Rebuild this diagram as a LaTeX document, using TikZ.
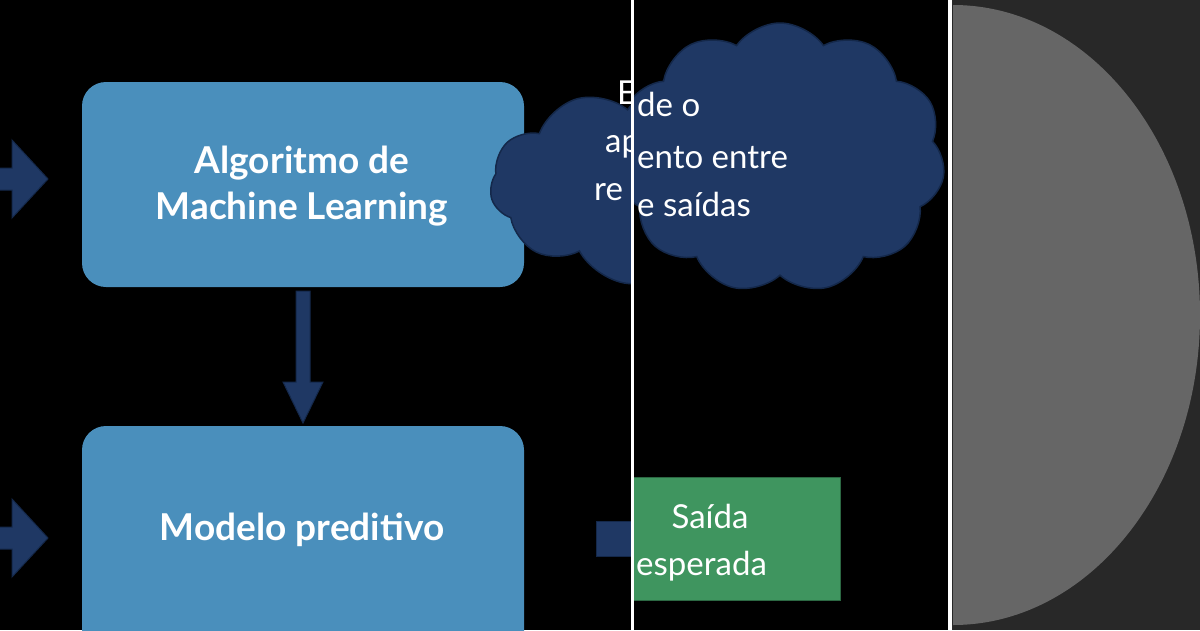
\documentclass[tikz,border=0pt]{standalone}
\usepackage{fontspec}
\setmainfont{Lato}
\usetikzlibrary{shapes.symbols}
\definecolor{navy}{HTML}{1F3864}
\definecolor{navyd}{HTML}{14284A}
\definecolor{boxblue}{HTML}{4A8FBC}
\definecolor{grn}{HTML}{3F955F}
\definecolor{panel}{HTML}{282828}
\definecolor{disc}{HTML}{666666}
\begin{document}
\begin{tikzpicture}[x=1pt,y=-1pt,
  boxst/.style={fill=boxblue,rounded corners=24pt},
  boxtxt/.style={text=white,font=\fontsize{37}{46}\selectfont\bfseries,align=center},
  cloudtxt/.style={text=white,font=\fontsize{33}{48}\selectfont,anchor=base west,inner sep=0pt},
  arr/.style={fill=navy,draw=navyd,line width=1pt},
  cloudst/.style={cloud,cloud puffs=11,cloud puff arc=110,aspect=1.9,fill=navy,draw=navyd,line width=1.5pt,inner sep=0pt}]
\fill[black] (0,0) rectangle (1200,630);
\useasboundingbox (0,0) rectangle (1200,630);
% left arrows
\draw[arr] (0,168)--(12,168)--(12,140)--(48,179)--(12,218)--(12,190)--(0,190);
\draw[arr] (0,527)--(12,527)--(12,499)--(48,538)--(12,577)--(12,549)--(0,549);
% box 1
\node[boxst,minimum width=442pt,minimum height=205pt] (b1) at (303,184.5) {};
\node[boxtxt] (t1) at (302,186) {Algoritmo de\\Machine Learning};
% box 2
\begin{scope}
\clip (0,0) rectangle (632,630);
\node[boxst,minimum width=442pt,minimum height=260pt] (b2) at (303,556) {};
\end{scope}
\node[boxtxt] (t2) at (302,530) {Modelo preditivo};
% down arrow
\draw[arr] (296,291)--(310,291)--(310,382)--(323,382)--(303,423)--(283,382)--(296,382)--cycle;
% right arrow (cut)
\draw[arr] (596,521)--(634,521)--(634,556)--(596,556)--cycle;
% left cloud part
\begin{scope}
\clip (0,0) rectangle (632,630);
\node[cloudst,minimum width=380pt,minimum height=205pt] (c1) at (680,185) {};
\node[cloudtxt] (e1) at (617,104) {E};
\node[cloudtxt] (e2) at (605,152) {ap};
\node[cloudtxt] (e3) at (594,200) {re};
\end{scope}
% right cloud part
\begin{scope}
\clip (633,0) rectangle (950,630);
\node[cloudst,minimum width=330pt,minimum height=270pt] (c2) at (780,158) {};
\end{scope}
\node[cloudtxt] (r1) at (637,116) {de o};
\node[cloudtxt] (r2) at (637,168) {ento entre};
\node[cloudtxt] (r3) at (637,216) {e saídas};
% green box
\draw[fill=grn,draw=grn!70!black,line width=1pt] (633,477) rectangle (840,600);
\node[text=white,font=\fontsize{33}{40}\selectfont] (g1) at (710,516) {Saída};
\node[text=white,font=\fontsize{33}{40}\selectfont,anchor=west,inner sep=0pt] (g2) at (636,566) {esperada};
% right panel
\fill[panel] (950,0) rectangle (1200,630);
\begin{scope}
\clip (953,0) rectangle (1200,630);
\fill[disc] (953,315) ellipse [x radius=247pt,y radius=310pt];
\end{scope}
% white lines
\fill[white] (630.5,0) rectangle (633.5,630);
\fill[white] (948,0) rectangle (952,630);
\end{tikzpicture}
\end{document}
